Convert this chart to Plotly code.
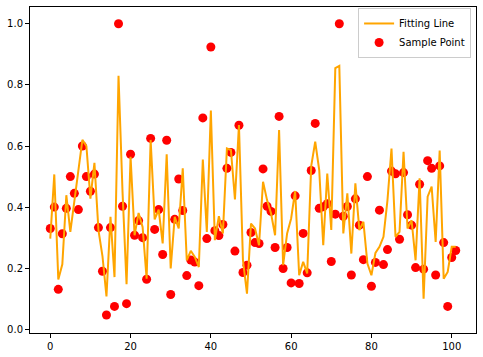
import plotly.graph_objects as go

# x positions (0..101)
x_vals = list(range(102))

# Sample points (red scatter)
sample_y = [
    0.33, 0.40, 0.131, 0.313, 0.396, 0.50, 0.445, 0.392, 0.60, 0.50,
    0.452, 0.508, 0.333, 0.19, 0.047, 0.333, 0.075, 1.0, 0.403, 0.084,
    0.573, 0.308, 0.356, 0.30, 0.164, 0.625, 0.327, 0.392, 0.245, 0.619,
    0.114, 0.36, 0.492, 0.389, 0.176, 0.227, 0.22, 0.143, 0.692, 0.297,
    0.924, 0.323, 0.307, 0.343, 0.527, 0.579, 0.256, 0.668, 0.186, 0.21,
    0.317, 0.284, 0.281, 0.525, 0.403, 0.386, 0.268, 0.697, 0.199, 0.268,
    0.152, 0.437, 0.15, 0.314, 0.185, 0.52, 0.674, 0.396, 0.401, 0.411,
    0.222, 0.377, 1.0, 0.37, 0.402, 0.178, 0.427, 0.341, 0.228, 0.50,
    0.141, 0.219, 0.39, 0.212, 0.261, 0.518, 0.509, 0.295, 0.513, 0.375,
    0.341, 0.202, 0.475, 0.197, 0.552, 0.527, 0.178, 0.535, 0.284, 0.075,
    0.235, 0.258,
]

# Fitting line (orange)
fit_y = [
    0.297, 0.507, 0.163, 0.213, 0.439, 0.319, 0.42, 0.52, 0.62, 0.60,
    0.428, 0.545, 0.325, 0.24, 0.108, 0.368, 0.171, 0.83, 0.45, 0.148,
    0.565, 0.308, 0.381, 0.335, 0.166, 0.62, 0.36, 0.392, 0.281, 0.573,
    0.199, 0.368, 0.33, 0.527, 0.226, 0.257, 0.237, 0.204, 0.556, 0.319,
    0.716, 0.292, 0.37, 0.314, 0.592, 0.587, 0.425, 0.669, 0.226, 0.117,
    0.346, 0.33, 0.275, 0.483, 0.423, 0.379, 0.308, 0.652, 0.21, 0.314,
    0.363, 0.453, 0.177, 0.221, 0.183, 0.534, 0.614, 0.521, 0.275, 0.51,
    0.325, 0.855, 0.862, 0.314, 0.445, 0.248, 0.478, 0.325, 0.352, 0.215,
    0.177, 0.25, 0.27, 0.303, 0.423, 0.592, 0.303, 0.319, 0.581, 0.33,
    0.357, 0.226, 0.494, 0.10, 0.434, 0.467, 0.286, 0.585, 0.166, 0.188,
    0.27, 0.27,
]

x_ticks = [0, 20, 40, 60, 80, 100]
y_ticks = [0.0, 0.2, 0.4, 0.6, 0.8, 1.0]

fig = go.Figure()
fig.add_trace(go.Scatter(
    x=x_vals, y=sample_y, mode="markers", name="Sample Point",
    marker=dict(color="red", size=9, line=dict(width=0)),
))
fig.add_trace(go.Scatter(
    x=x_vals, y=fit_y, mode="lines", name="Fitting Line",
    line=dict(color="orange", width=2),
))

axis_common = dict(
    showgrid=False, zeroline=False, showline=True, mirror=True,
    linecolor="black", linewidth=1, ticks="outside", ticklen=4,
    tickwidth=1, tickcolor="black", automargin=False,
    tickfont=dict(family="DejaVu Sans", size=10, color="black"),
)

fig.update_layout(
    width=483, height=357,
    margin=dict(l=30, r=7, t=7, b=24),
    paper_bgcolor="white", plot_bgcolor="white",
    font=dict(family="DejaVu Sans", size=10, color="black"),
    showlegend=True,
    legend=dict(
        x=0.989, y=0.997, xanchor="right", yanchor="top",
        bgcolor="rgba(255,255,255,0.8)", bordercolor="#cccccc", borderwidth=1,
        traceorder="reversed", font=dict(size=10), tracegroupgap=0,
        itemwidth=30,
    ),
    xaxis=dict(range=[-5.05, 106.05], tickvals=x_ticks, **axis_common),
    yaxis=dict(range=[-0.012, 1.055], tickvals=y_ticks, tickformat=".1f", **axis_common),
)

fig.write_html(
    "out.html",
    config={"displayModeBar": False},
    post_script="document.body.style.margin='0';document.body.style.overflow='hidden';",
)
